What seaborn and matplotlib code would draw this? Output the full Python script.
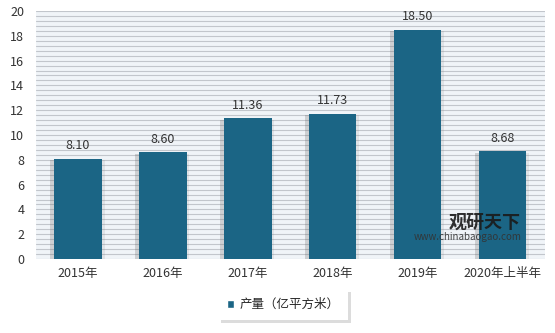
import matplotlib
matplotlib.use("Agg")
import matplotlib.pyplot as plt
import matplotlib.patheffects as pe
from matplotlib.patches import Patch
import numpy as np
import pandas as pd
import seaborn as sns

# data
years = ["2015年", "2016年", "2017年", "2018年", "2019年", "2020年上半年"]
output = [8.10, 8.60, 11.36, 11.73, 18.50, 8.68]
series_name = "产量（亿平方米）"

df = pd.DataFrame({"year": years, "value": output})

sns.set_theme(style="white")
plt.rcParams['font.family'] = ['Noto Sans CJK SC', 'DejaVu Sans']

fig = plt.figure(figsize=(5.55, 3.33), dpi=100)
ax = fig.add_axes([0.064, 0.222, 0.918, 0.745])

bar_color = "#1b6585"
sns.barplot(data=df, x="year", y="value", color=bar_color, width=0.56,
            saturation=1, linewidth=0, ax=ax, zorder=3)

# bar shadows + value labels
for patch, v in zip(ax.patches, output):
    patch.set_path_effects([
        pe.SimplePatchShadow(offset=(-3, -1), shadow_rgbFace="#666666", alpha=0.25),
        pe.SimplePatchShadow(offset=(2, -1), shadow_rgbFace="#888888", alpha=0.15),
        pe.Normal()])
    ax.text(patch.get_x() + patch.get_width() / 2, v + 0.5, f"{v:.2f}",
            ha="center", va="bottom", fontsize=9, color="#333333", zorder=4)

# striped background
ax.set_facecolor("#f0f4f8")
for y in np.arange(0, 20.01, 0.4):
    ax.axhline(y, color="#c2c6cc", lw=0.8, zorder=1)

ax.set_ylim(0, 20)
ax.set_yticks(range(0, 21, 2))
ax.set_xlim(-0.5, 5.5)
ax.set_xlabel("")
ax.set_ylabel("")
for s in ax.spines.values():
    s.set_visible(False)
ax.tick_params(axis="both", length=0, labelsize=9, colors="#333333")
ax.tick_params(axis="y", pad=8)
ax.tick_params(axis="x", pad=6)

# legend
leg = fig.legend(handles=[Patch(facecolor=bar_color, label=series_name)],
                 loc="center", bbox_to_anchor=(0.51, 0.085), frameon=True,
                 fontsize=9, handlelength=0.6, handleheight=0.6,
                 handletextpad=0.4, borderpad=0.7, fancybox=False,
                 shadow={"color": "#bbbbbb", "alpha": 0.5})
leg.get_frame().set_edgecolor("white")
leg.get_frame().set_linewidth(0)

# watermark
fig.text(0.874, 0.333, "观研天下", fontsize=13, fontweight="bold", color="#1a1a1a",
         alpha=0.9, ha="center", va="center", zorder=10)
fig.text(0.842, 0.288, "www.chinabaogao.com", fontsize=7, color="#333333",
         alpha=0.9, ha="center", va="center", zorder=10)

fig.savefig("out.png", dpi=100)
